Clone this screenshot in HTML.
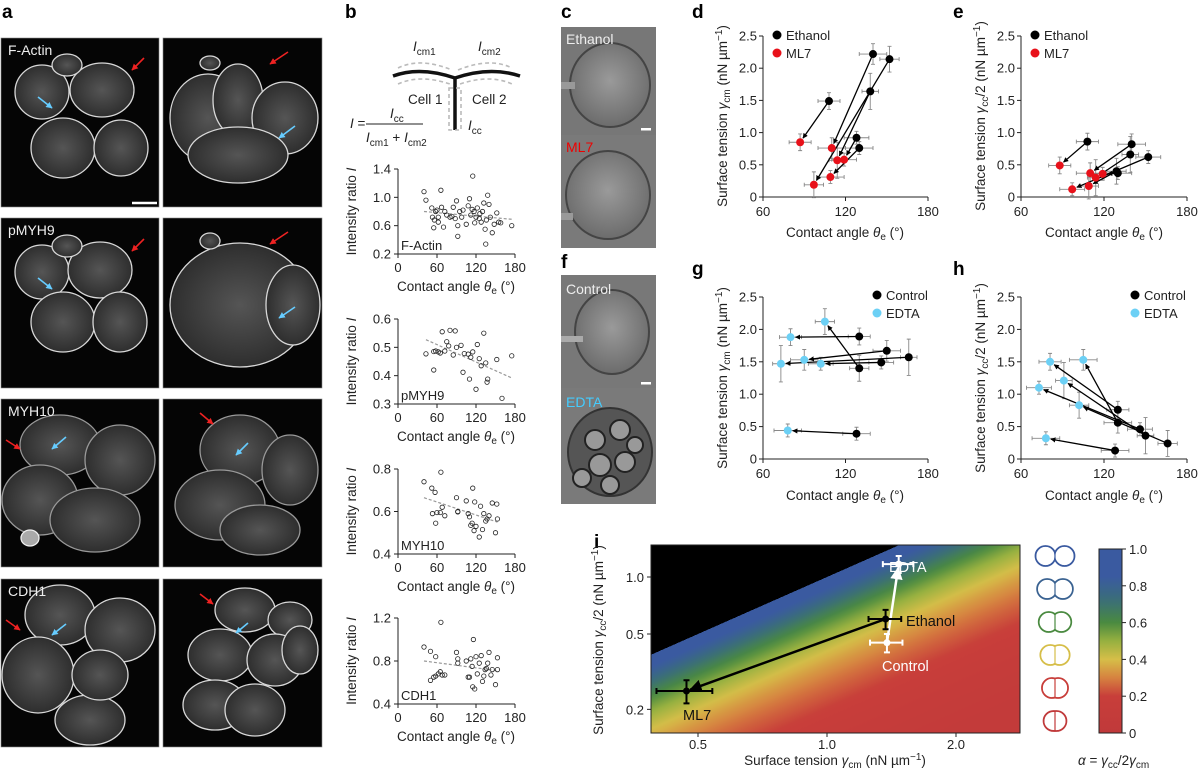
<!DOCTYPE html>
<html><head><meta charset="utf-8"><style>
body{margin:0;background:#fff}
svg{display:block;font-family:"Liberation Sans",sans-serif}
.pl{font-weight:bold;font-size:19px}
.t{font-size:13.5px;fill:#222}
.tk{font-size:13px;fill:#222}
</style></head><body>
<svg id="fig" width="1200" height="774" viewBox="0 0 1200 774" xmlns="http://www.w3.org/2000/svg">
<defs>
<radialGradient id="glow" cx="50%" cy="50%" r="55%"><stop offset="0" stop-color="#555"/><stop offset="1" stop-color="#2a2a2a"/></radialGradient>
<radialGradient id="bf" cx="50%" cy="45%" r="55%"><stop offset="0" stop-color="#9a9a9a"/><stop offset="1" stop-color="#6c6c6c"/></radialGradient>
<clipPath id="iclip"><rect x="651" y="545" width="369" height="188"/></clipPath>
<marker id="arrB" viewBox="0 0 10 10" refX="9" refY="5" markerWidth="5" markerHeight="5" orient="auto-start-reverse"><path d="M0,0L10,5L0,10z" fill="#000"/></marker>
<marker id="arrW" viewBox="0 0 10 10" refX="9" refY="5" markerWidth="5" markerHeight="5" orient="auto-start-reverse"><path d="M0,0L10,5L0,10z" fill="#fff"/></marker>
<marker id="arrS" viewBox="0 0 10 10" refX="9" refY="5" markerWidth="4" markerHeight="4" orient="auto-start-reverse"><path d="M0,0L10,5L0,10z" fill="#000"/></marker>
<marker id="arrR" viewBox="0 0 10 10" refX="9" refY="5" markerWidth="4" markerHeight="4" orient="auto-start-reverse"><path d="M0,0L10,5L0,10z" fill="#e22"/></marker>
<marker id="arrC" viewBox="0 0 10 10" refX="9" refY="5" markerWidth="4" markerHeight="4" orient="auto-start-reverse"><path d="M0,0L10,5L0,10z" fill="#6cf"/></marker>
</defs>

<!-- panel labels -->
<text class="pl" x="2" y="18">a</text>
<text class="pl" x="345" y="18">b</text>
<text class="pl" x="561" y="18">c</text>
<text class="pl" x="692" y="18">d</text>
<text class="pl" x="953" y="18">e</text>
<text class="pl" x="561" y="268">f</text>
<text class="pl" x="692" y="275">g</text>
<text class="pl" x="953" y="275">h</text>
<text class="pl" x="594" y="548">i</text>

<!-- panel a microscopy -->
<g fill="url(#glow)" stroke="#d8d8d8" stroke-width="1.3">
 <rect x="1" y="38" width="158" height="169" fill="#050505" stroke="#888" stroke-width="0.6"/>
 <ellipse cx="42" cy="92" rx="27" ry="27"/><ellipse cx="102" cy="90" rx="32" ry="27"/><ellipse cx="67" cy="65" rx="15" ry="11"/>
 <ellipse cx="63" cy="148" rx="32" ry="30"/><ellipse cx="121" cy="148" rx="27" ry="28"/>
 <rect x="163" y="38" width="159" height="169" fill="#050505" stroke="#888" stroke-width="0.6"/>
 <ellipse cx="208" cy="118" rx="38" ry="44"/><ellipse cx="238" cy="100" rx="25" ry="36"/><ellipse cx="285" cy="118" rx="33" ry="36"/>
 <ellipse cx="238" cy="155" rx="50" ry="28"/><ellipse cx="210" cy="63" rx="10" ry="7"/>
 <rect x="1" y="218" width="158" height="170" fill="#050505" stroke="#888" stroke-width="0.6"/>
 <ellipse cx="42" cy="272" rx="27" ry="27"/><ellipse cx="100" cy="270" rx="32" ry="28"/><ellipse cx="67" cy="246" rx="15" ry="11"/>
 <ellipse cx="63" cy="322" rx="32" ry="30"/><ellipse cx="120" cy="322" rx="27" ry="30"/>
 <rect x="163" y="218" width="159" height="170" fill="#050505" stroke="#888" stroke-width="0.6"/>
 <ellipse cx="240" cy="305" rx="70" ry="62"/><ellipse cx="293" cy="305" rx="27" ry="40"/><ellipse cx="210" cy="241" rx="10" ry="8"/>
 <rect x="1" y="399" width="158" height="168" fill="#050505" stroke="#888" stroke-width="0.6"/>
 <ellipse cx="60" cy="445" rx="40" ry="30" stroke="#999"/><ellipse cx="120" cy="460" rx="35" ry="35" stroke="#999"/><ellipse cx="40" cy="500" rx="38" ry="35" stroke="#999"/><ellipse cx="95" cy="520" rx="45" ry="32" stroke="#999"/>
 <ellipse cx="30" cy="538" rx="9" ry="8" fill="#aaa" stroke="#eee"/>
 <rect x="163" y="399" width="159" height="168" fill="#050505" stroke="#888" stroke-width="0.6"/>
 <ellipse cx="240" cy="450" rx="40" ry="35" stroke="#999"/><ellipse cx="290" cy="470" rx="28" ry="35" stroke="#999"/><ellipse cx="220" cy="505" rx="45" ry="35" stroke="#999"/><ellipse cx="260" cy="530" rx="40" ry="25" stroke="#999"/>
 <rect x="1" y="579" width="158" height="168" fill="#050505" stroke="#888" stroke-width="0.6"/>
 <ellipse cx="60" cy="615" rx="35" ry="30"/><ellipse cx="120" cy="630" rx="35" ry="32"/><ellipse cx="38" cy="675" rx="36" ry="38"/><ellipse cx="90" cy="720" rx="35" ry="25"/><ellipse cx="100" cy="675" rx="28" ry="25"/>
 <rect x="163" y="579" width="159" height="168" fill="#050505" stroke="#888" stroke-width="0.6"/>
 <ellipse cx="245" cy="610" rx="30" ry="22"/><ellipse cx="290" cy="620" rx="22" ry="18"/><ellipse cx="220" cy="655" rx="32" ry="26"/><ellipse cx="275" cy="660" rx="28" ry="26"/><ellipse cx="300" cy="650" rx="18" ry="24"/><ellipse cx="215" cy="705" rx="32" ry="25"/><ellipse cx="255" cy="710" rx="30" ry="26"/>
</g>
<g font-size="14" fill="#eee">
 <text x="8" y="55">F-Actin</text>
 <text x="8" y="235">pMYH9</text>
 <text x="8" y="416">MYH10</text>
 <text x="8" y="596">CDH1</text>
 <line x1="132" y1="203" x2="157" y2="203" stroke="#fff" stroke-width="2.5"/>
 <g stroke="#e22" stroke-width="1.6" marker-end="url(#arrR)">
  <line x1="144" y1="58" x2="132" y2="70"/><line x1="288" y1="52" x2="270" y2="64"/><line x1="144" y1="239" x2="132" y2="251"/><line x1="288" y1="232" x2="270" y2="244"/>
  <line x1="6" y1="440" x2="20" y2="449"/><line x1="200" y1="413" x2="213" y2="424"/><line x1="6" y1="620" x2="20" y2="630"/><line x1="200" y1="594" x2="213" y2="604"/>
 </g>
 <g stroke="#6cf" stroke-width="1.6" marker-end="url(#arrC)">
  <line x1="38" y1="97" x2="52" y2="108"/><line x1="295" y1="126" x2="279" y2="138"/><line x1="38" y1="278" x2="52" y2="289"/><line x1="295" y1="307" x2="279" y2="318"/>
  <line x1="66" y1="437" x2="52" y2="449"/><line x1="248" y1="443" x2="236" y2="455"/><line x1="66" y1="624" x2="52" y2="635"/><line x1="248" y1="623" x2="236" y2="633"/>
 </g>
</g>

<!-- panel b schematic -->
<g>
 <path d="M393,76 Q420,66 455,78 Q490,66 520,76" fill="none" stroke="#111" stroke-width="3.5"/>
 <line x1="455" y1="78" x2="455" y2="130" stroke="#111" stroke-width="3.5"/>
 <g fill="none" stroke="#bbb" stroke-width="1.6" stroke-dasharray="4,3">
  <path d="M398,68 Q420,57 452,70 M398,84 Q420,74 450,84"/><path d="M458,70 Q490,57 512,68 M460,84 Q490,74 512,84"/>
  <rect x="449" y="88" width="12" height="42"/>
 </g>
 <g class="t" font-size="14">
  <text x="413" y="51"><tspan font-style="italic">I</tspan><tspan font-size="10" dy="4">cm1</tspan></text>
  <text x="478" y="51"><tspan font-style="italic">I</tspan><tspan font-size="10" dy="4">cm2</tspan></text>
  <text x="408" y="104">Cell 1</text><text x="472" y="104">Cell 2</text>
  <text x="468" y="130"><tspan font-style="italic">I</tspan><tspan font-size="10" dy="4">cc</tspan></text>
  <text x="350" y="128"><tspan font-style="italic">I</tspan> =</text>
  <text x="390" y="118"><tspan font-style="italic">I</tspan><tspan font-size="10" dy="4">cc</tspan></text>
  <line x1="366" y1="124" x2="423" y2="124" stroke="#222" stroke-width="1"/>
  <text x="366" y="142"><tspan font-style="italic">I</tspan><tspan font-size="10" dy="4">cm1</tspan><tspan dy="-4"> + </tspan><tspan font-style="italic">I</tspan><tspan font-size="10" dy="4">cm2</tspan></text>
 </g>
</g>

<!-- panel c / f brightfield -->
<g>
 <rect x="561" y="27" width="95" height="108" fill="#777"/>
 <ellipse cx="610" cy="85" rx="40" ry="42" fill="url(#bf)" stroke="#444" stroke-width="2"/>
 <rect x="561" y="82" width="14" height="7" fill="#999"/>
 <text x="566" y="44" font-size="14" fill="#eee">Ethanol</text>
 <rect x="641" y="128" width="10" height="2.5" fill="#fff"/>
 <rect x="561" y="135" width="95" height="113" fill="#7a7a7a"/>
 <ellipse cx="608" cy="195" rx="42" ry="44" fill="url(#bf)" stroke="#444" stroke-width="2"/>
 <rect x="561" y="213" width="12" height="7" fill="#999"/>
 <text x="566" y="152" font-size="14" fill="#e00">ML7</text>
</g>
<g>
 <rect x="561" y="275" width="95" height="113" fill="#787878"/>
 <ellipse cx="612" cy="332" rx="37" ry="42" fill="url(#bf)" stroke="#444" stroke-width="2"/>
 <rect x="561" y="336" width="22" height="6" fill="#aaa"/>
 <text x="566" y="294" font-size="14" fill="#eee">Control</text>
 <rect x="641" y="382" width="10" height="2.5" fill="#fff"/>
 <rect x="561" y="388" width="95" height="116" fill="#7a7a7a"/>
 <ellipse cx="610" cy="452" rx="42" ry="44" fill="#555" stroke="#333" stroke-width="2"/>
 <g fill="#999" stroke="#222" stroke-width="2"><circle cx="595" cy="440" r="10"/><circle cx="620" cy="430" r="10"/><circle cx="600" cy="465" r="11"/><circle cx="625" cy="462" r="10"/><circle cx="582" cy="478" r="9"/><circle cx="610" cy="485" r="9"/><circle cx="635" cy="445" r="8"/></g>
 <text x="566" y="407" font-size="14" fill="#4cf">EDTA</text>
</g>

<!-- axis titles -->
<g class="t" font-size="14">
 <text transform="translate(727,116) rotate(-90)" text-anchor="middle">Surface tension <tspan font-style="italic">γ</tspan><tspan font-size="10" dy="3">cm</tspan><tspan dy="-3"> (nN µm</tspan><tspan font-size="10" dy="-5">−1</tspan><tspan dy="5">)</tspan></text>
 <text transform="translate(985,116) rotate(-90)" text-anchor="middle">Surface tension <tspan font-style="italic">γ</tspan><tspan font-size="10" dy="3">cc</tspan><tspan dy="-3">/2 (nN µm</tspan><tspan font-size="10" dy="-5">−1</tspan><tspan dy="5">)</tspan></text>
 <text transform="translate(727,378) rotate(-90)" text-anchor="middle">Surface tension <tspan font-style="italic">γ</tspan><tspan font-size="10" dy="3">cm</tspan><tspan dy="-3"> (nN µm</tspan><tspan font-size="10" dy="-5">−1</tspan><tspan dy="5">)</tspan></text>
 <text transform="translate(985,378) rotate(-90)" text-anchor="middle">Surface tension <tspan font-style="italic">γ</tspan><tspan font-size="10" dy="3">cc</tspan><tspan dy="-3">/2 (nN µm</tspan><tspan font-size="10" dy="-5">−1</tspan><tspan dy="5">)</tspan></text>
 <text x="845" y="237" text-anchor="middle">Contact angle <tspan font-style="italic">θ</tspan><tspan font-size="10" dy="3">e</tspan><tspan dy="-3"> (°)</tspan></text>
 <text x="1104" y="237" text-anchor="middle">Contact angle <tspan font-style="italic">θ</tspan><tspan font-size="10" dy="3">e</tspan><tspan dy="-3"> (°)</tspan></text>
 <text x="845" y="500" text-anchor="middle">Contact angle <tspan font-style="italic">θ</tspan><tspan font-size="10" dy="3">e</tspan><tspan dy="-3"> (°)</tspan></text>
 <text x="1104" y="500" text-anchor="middle">Contact angle <tspan font-style="italic">θ</tspan><tspan font-size="10" dy="3">e</tspan><tspan dy="-3"> (°)</tspan></text>
 <text transform="translate(603,640) rotate(-90)" text-anchor="middle">Surface tension <tspan font-style="italic">γ</tspan><tspan font-size="10" dy="3">cc</tspan><tspan dy="-3">/2 (nN µm</tspan><tspan font-size="10" dy="-5">−1</tspan><tspan dy="5">)</tspan></text>
 <text x="835" y="765" text-anchor="middle">Surface tension <tspan font-style="italic">γ</tspan><tspan font-size="10" dy="3">cm</tspan><tspan dy="-3"> (nN µm</tspan><tspan font-size="10" dy="-5">−1</tspan><tspan dy="5">)</tspan></text>
 <text x="1078" y="765"><tspan font-style="italic">α</tspan> = <tspan font-style="italic">γ</tspan><tspan font-size="10" dy="3">cc</tspan><tspan dy="-3">/2</tspan><tspan font-style="italic">γ</tspan><tspan font-size="10" dy="3">cm</tspan></text>
</g>
<g id="dyn"></g>
</svg>
<script>
// ---- panel b data ----
const bXTicks=[0,60,120,180];
const b1X=[40,43,52,55,58,62,66,67,70,75,80,85,88,90,92,92,95,100,105,108,110,112,115,117,118,120,122,125,128,130,132,134,135,136,138,140,142,145,148,152,155,158,175,60,72,83,98,114,126,62,53,56];
const b1Y=[1.08,0.96,0.85,0.57,0.8,0.72,1.1,0.86,0.58,0.75,0.72,0.86,0.7,0.95,0.6,0.45,0.8,0.82,0.62,0.88,0.98,0.75,1.3,0.8,0.64,0.72,0.85,0.7,0.65,0.8,0.92,0.55,0.34,0.68,1.03,0.9,0.72,0.5,0.62,0.78,0.65,0.64,0.6,0.82,0.8,0.73,0.72,0.83,0.77,0.65,0.72,0.68];
const b1Trend=[[40,0.8],[175,0.69]];
const b1YTicks=[0.2,0.6,1.0,1.4];
const b2X=[43,55,55,58,62,68,72,75,78,80,85,88,90,97,100,102,108,110,112,115,120,122,125,128,132,135,137,138,152,160,175,65];
const b2Y=[0.477,0.42,0.485,0.487,0.484,0.555,0.487,0.52,0.505,0.56,0.473,0.558,0.5,0.507,0.412,0.478,0.476,0.388,0.465,0.484,0.352,0.51,0.46,0.435,0.55,0.445,0.377,0.388,0.457,0.32,0.47,0.48];
const b2Trend=[[43,0.527],[175,0.392]];
const b2YTicks=[0.3,0.4,0.5,0.6];
const b3X=[40,52,57,53,58,60,65,66,68,72,90,92,105,108,110,112,115,117,118,120,125,127,130,132,135,137,140,145,150,152,153,114,92];
const b3Y=[0.74,0.71,0.69,0.59,0.545,0.595,0.595,0.785,0.62,0.58,0.665,0.6,0.65,0.59,0.575,0.535,0.71,0.51,0.645,0.53,0.48,0.625,0.515,0.59,0.555,0.565,0.58,0.64,0.5,0.635,0.565,0.545,0.598];
const b3Trend=[[40,0.665],[153,0.55]];
const b3YTicks=[0.4,0.6,0.8];
const b4X=[40,50,58,50,55,58,62,65,66,68,72,90,92,92,105,108,110,112,114,115,116,118,120,122,125,128,130,132,134,136,140,143,145,150,153,153,138];
const b4Y=[0.93,0.89,0.84,0.62,0.65,0.66,0.68,0.7,1.16,0.67,0.67,0.88,0.82,0.78,0.8,0.65,0.65,0.82,0.75,0.56,1.0,0.54,0.84,0.68,0.78,0.85,0.61,0.66,0.72,0.73,0.88,0.67,0.72,0.58,0.83,0.72,0.78];
const b4Trend=[[40,0.8],[153,0.71]];
const b4YTicks=[0.4,0.8,1.2];
const bNames=['F-Actin','pMYH9','MYH10','CDH1'];

// ---- panels d/e/g/h data ----
const scXTicks=[60,120,180];
const scYTicks=[0,0.5,1.0,1.5,2.0,2.5];
const dEthX=[108,140,138,128,152,130];
const dEthY=[1.49,2.22,1.64,0.92,2.14,0.76];
const dMLX=[87,110,114,119,97,109];
const dMLY=[0.85,0.76,0.57,0.58,0.19,0.31];
const eEthX=[108,140,139,152,129,130];
const eEthY=[0.86,0.82,0.66,0.62,0.40,0.37];
const eMLX=[88,110,114,97,109,119];
const eMLY=[0.49,0.37,0.30,0.12,0.17,0.36];
const gCtlX=[130,150,166,146,130,128];
const gCtlY=[1.89,1.67,1.57,1.49,1.40,0.39];
const gEdX=[80,90,73,102,105,78];
const gEdY=[1.88,1.53,1.47,1.47,2.12,0.44];
const hCtlX=[130,130,150,146,166,128];
const hCtlY=[0.76,0.56,0.36,0.46,0.24,0.13];
const hEdX=[81,105,91,73,102,78];
const hEdY=[1.50,1.53,1.21,1.10,0.83,0.32];
const errXdeg=[8,10,6,9,7,10];
const errYval=[0.13,0.16,0.28,0.1,0.2,0.1];

// ---- panel i data ----
const iNames=['ML7','Ethanol','Control','EDTA'];
const iGcm=[0.47,1.37,1.38,1.47];
const iGcc=[0.25,0.6,0.45,1.17];
const iErrX=[0.07,0.12,0.12,0.12];
const iErrY=[0.035,0.07,0.05,0.12];
const iXTicks=[0.5,1.0,2.0];
const iYTicks=[0.2,0.5,1.0];
const cbTicks=[0,0.2,0.4,0.6,0.8,1.0];
const iconAlpha=[1.0,0.8,0.6,0.4,0.2,0.0];

const NS='http://www.w3.org/2000/svg';
const root=document.getElementById('dyn');
function mk(tag,attrs,parent){const e=document.createElementNS(NS,tag);for(const k in attrs)e.setAttribute(k,attrs[k]);(parent||root).appendChild(e);return e;}
function lin(d0,d1,r0,r1){return v=>r0+(v-d0)/(d1-d0)*(r1-r0);}

// ---- panel b plots ----
const bData=[[b1X,b1Y,b1Trend,b1YTicks,169,254],[b2X,b2Y,b2Trend,b2YTicks,319,404],[b3X,b3Y,b3Trend,b3YTicks,469,554],[b4X,b4Y,b4Trend,b4YTicks,618,704]];
bData.forEach((bd,k)=>{
  const [xs,ys,tr,yt,top,bot]=bd;
  const g=mk('g',{});
  
  
  const sx=lin(0,180,398,515), sy=lin(yt[0],yt[yt.length-1],bot,top);
  const ax=mk('path',{d:`M398,${top}V${bot}H515`,fill:'none',stroke:'#222','stroke-width':1},g);
   
  yt.forEach(v=>{const y=sy(v);mk('line',{x1:394,x2:398,y1:y,y2:y,stroke:'#222'},g);
    const t=mk('text',{x:391,y:y+4.5,'text-anchor':'end',class:'tk'},g);t.textContent=v.toFixed(1);
    });
  bXTicks.forEach(v=>{const x=sx(v);mk('line',{x1:x,x2:x,y1:bot,y2:bot+4,stroke:'#222'},g);
    const t=mk('text',{x:x,y:bot+18,'text-anchor':'middle',class:'tk'},g);t.textContent=v;
    });
  const tl=mk('line',{x1:sx(tr[0][0]),y1:sy(tr[0][1]),x2:sx(tr[1][0]),y2:sy(tr[1][1]),stroke:'#999','stroke-width':1.2,'stroke-dasharray':'3,2'},g);
  
  xs.forEach((x,i)=>{const c=mk('circle',{cx:sx(x),cy:sy(ys[i]),r:2.2,fill:'none',stroke:'#222','stroke-width':0.8},g);
    });
  const lb=mk('text',{x:401,y:bot-4,class:'tk','font-size':'14'},g);lb.textContent=bNames[k];
  
  const yt2=mk('text',{transform:`translate(356,${(top+bot)/2}) rotate(-90)`,'text-anchor':'middle',class:'t'},g);
  yt2.innerHTML='Intensity ratio <tspan font-style="italic">I</tspan>';
  
  const xt=mk('text',{x:456,y:bot+37,'text-anchor':'middle',class:'t'},g);
  xt.innerHTML='Contact angle <tspan font-style="italic">θ</tspan><tspan font-size="10" dy="3">e</tspan><tspan dy="-3"> (°)</tspan>';
  
});

// ---- d/e/g/h ----
function pairPlot(name,x0,x1,top,bot,cX,cY,tX,tY,col1,col2,leg1,leg2,legX,legY){
  const g=mk('g',{});
  
  
  const sx=lin(60,180,x0,x1), sy=lin(0,2.5,bot,top);
  const ax=mk('path',{d:`M${x0},${top}V${bot}H${x1}`,fill:'none',stroke:'#222'},g);
  
  scYTicks.forEach(v=>{const y=sy(v);mk('line',{x1:x0-4,x2:x0,y1:y,y2:y,stroke:'#222'},g);
    const t=mk('text',{x:x0-6,y:y+4.5,'text-anchor':'end',class:'tk','font-size':'14'},g);t.textContent=v===0?'0':v.toFixed(1);
    });
  scXTicks.forEach(v=>{const x=sx(v);mk('line',{x1:x,x2:x,y1:bot,y2:bot+4,stroke:'#222'},g);
    const t=mk('text',{x:x,y:bot+19,'text-anchor':'middle',class:'tk','font-size':'14'},g);t.textContent=v;
    });
  const pts=[[cX,cY,col1],[tX,tY,col2]];
  pts.forEach(([xs,ys])=>xs.forEach((x,i)=>{
    const px=sx(x),py=sy(ys[i]),ex=sx(x+errXdeg[i])-px,ey=py-sy(ys[i]+errYval[i]);
    const e=mk('path',{d:`M${px-ex},${py}H${px+ex}M${px-ex},${py-2}v4M${px+ex},${py-2}v4M${px},${py-ey}V${py+ey}M${px-2},${py-ey}h4M${px-2},${py+ey}h4`,stroke:'#888','stroke-width':0.9,fill:'none'},g);
    }));
  cX.forEach((x,i)=>{
    const ax1=sx(x),ay1=sy(cY[i]),ax2=sx(tX[i]),ay2=sy(tY[i]);
    const dx=ax2-ax1,dy=ay2-ay1,L=Math.hypot(dx,dy),s=(L-5)/L;
    const l=mk('line',{x1:ax1,y1:ay1,x2:ax1+dx*s,y2:ay1+dy*s,stroke:'#000','stroke-width':1.3,'marker-end':'url(#arrS)'},g);
    });
  pts.forEach(([xs,ys,col])=>xs.forEach((x,i)=>{
    const c=mk('circle',{cx:sx(x),cy:sy(ys[i]),r:4,fill:col},g);
    }));
  [[leg1,col1,0],[leg2,col2,18]].forEach(([lab,col,off])=>{
    const c=mk('circle',{cx:legX,cy:legY+off,r:4.5,fill:col},g);
    
    const t=mk('text',{x:legX+9,y:legY+off+5,class:'tk','font-size':'14.5'},g);t.textContent=lab;
    });
}
pairPlot('plot-d',763,928,36,197,dEthX,dEthY,dMLX,dMLY,'#000','#e8111a','Ethanol','ML7',777,35);
pairPlot('plot-e',1021,1187,36,197,eEthX,eEthY,eMLX,eMLY,'#000','#e8111a','Ethanol','ML7',1035,35);
pairPlot('plot-g',763,928,297,459,gCtlX,gCtlY,gEdX,gEdY,'#000','#6cd0f5','Control','EDTA',877,295);
pairPlot('plot-h',1021,1187,297,459,hCtlX,hCtlY,hEdX,hEdY,'#000','#6cd0f5','Control','EDTA',1135,295);

// ---- panel i ----
const cmStops=[[0,[192,57,58]],[0.2,[200,62,58]],[0.3,[214,130,64]],[0.4,[214,190,72]],[0.5,[150,176,64]],[0.6,[74,138,64]],[0.72,[58,110,120]],[0.85,[58,90,160]],[1,[58,90,160]]];
function cmap(a){a=Math.max(0,Math.min(1,a));for(let i=1;i<cmStops.length;i++){if(a<=cmStops[i][0]){const [t0,c0]=cmStops[i-1],[t1,c1]=cmStops[i];const f=(a-t0)/(t1-t0||1);return 'rgb('+c0.map((v,j)=>Math.round(v+(c1[j]-v)*f)).join(',')+')';}}return 'rgb(58,90,160)';}
const PXD=129, PYD=57, X1=827, Y1=577;
const isx=v=>X1+Math.log2(v)*PXD, isy=v=>Y1-Math.log2(v)*PYD;
const defs=document.querySelector('defs');
const gx=1/PXD, gy=1/PYD, gm=Math.hypot(gx,gy), D=4/gm;
const lg=mk('linearGradient',{id:'alphaGrad',gradientUnits:'userSpaceOnUse',x1:X1,y1:Y1,x2:X1+D*gx/gm,y2:Y1+D*gy/gm},defs);
mk('stop',{offset:0,'stop-color':'#000'},lg);
for(let k=0;k<=40;k++){const t=k/40,a=Math.pow(2,-4*t);mk('stop',{offset:t,'stop-color':cmap(a)},lg);}
const ig=mk('g',{});


const hm=mk('rect',{x:651,y:545,width:369,height:188,fill:'url(#alphaGrad)','clip-path':'url(#iclip)'},ig);

const fr=mk('rect',{x:651,y:545,width:369,height:188,fill:'none',stroke:'#222'},ig);

iYTicks.forEach(v=>{const y=isy(v);mk('line',{x1:647,x2:651,y1:y,y2:y,stroke:'#222'},ig);
  const t=mk('text',{x:644,y:y+5,'text-anchor':'end',class:'tk','font-size':'14'},ig);t.textContent=v.toFixed(1);
  });
iXTicks.forEach(v=>{const x=isx(v);mk('line',{x1:x,x2:x,y1:733,y2:737,stroke:'#222'},ig);
  const t=mk('text',{x:x,y:749,'text-anchor':'middle',class:'tk','font-size':'14'},ig);t.textContent=v.toFixed(1);
  });
function arrowI(a,b,col,mark){const x1=isx(iGcm[a]),y1=isy(iGcc[a]),x2=isx(iGcm[b]),y2=isy(iGcc[b]);
  const dx=x2-x1,dy=y2-y1,L=Math.hypot(dx,dy),s=(L-4)/L;
  const l=mk('line',{x1,y1,x2:x1+dx*s,y2:y1+dy*s,stroke:col,'stroke-width':2.5,'marker-end':mark},ig);
  }
arrowI(1,0,'#000','url(#arrB)');
arrowI(2,3,'#fff','url(#arrW)');
const iCols=['#000','#000','#fff','#fff'];
const iLab=[[683,720,'#111'],[906,626,'#111'],[882,671,'#fff'],[889,572,'#fff']];
iNames.forEach((n,i)=>{
  const px=isx(iGcm[i]),py=isy(iGcc[i]),x0=isx(iGcm[i]-iErrX[i]),x1=isx(iGcm[i]+iErrX[i]),y0=isy(iGcc[i]+iErrY[i]),y1=isy(iGcc[i]-iErrY[i]);
  const e=mk('path',{d:`M${x0},${py}H${x1}M${x0},${py-3}v6M${x1},${py-3}v6M${px},${y0}V${y1}M${px-3},${y0}h6M${px-3},${y1}h6`,stroke:iCols[i],'stroke-width':2,fill:'none'},ig);
  
  const c=mk('circle',{cx:px,cy:py,r:3.5,fill:iCols[i]},ig);
  
  const t=mk('text',{x:iLab[i][0],y:iLab[i][1],fill:iLab[i][2],'font-size':'14.5'},ig);t.textContent=n;
  
});
const cbG=mk('linearGradient',{id:'cbGrad',x1:0,y1:1,x2:0,y2:0},defs);
for(let k=0;k<=20;k++){mk('stop',{offset:k/20,'stop-color':cmap(k/20)},cbG);}
const cbS=lin(0,1,733,549);
const cb=mk('rect',{x:1099,y:549,width:23,height:184,fill:'url(#cbGrad)',stroke:'#222'},ig);

cbTicks.forEach(v=>{const y=cbS(v);mk('line',{x1:1122,x2:1126,y1:y,y2:y,stroke:'#222'},ig);
  const t=mk('text',{x:1129,y:y+5,class:'tk','font-size':'14'},ig);t.textContent=v===0?'0':v.toFixed(1);
  });
iconAlpha.forEach((a,k)=>{
  const cx=1055,cy=556+k*33,r=10,d=2*r*(0.15+0.85*a)*0.95,col=cmap(a);
  const g=mk('g',{},ig);
  
  
  mk('circle',{cx:cx-d/2,cy,r,fill:'#fff',stroke:col,'stroke-width':1.8},g);
  mk('circle',{cx:cx+d/2,cy,r,fill:'#fff',stroke:col,'stroke-width':1.8},g);
  mk('circle',{cx:cx-d/2,cy,r:r-1,fill:'#fff'},g);
  mk('circle',{cx:cx+d/2,cy,r:r-1,fill:'#fff'},g);
  const h=Math.sqrt(Math.max(0,r*r-d*d/4));
  mk('line',{x1:cx,x2:cx,y1:cy-h,y2:cy+h,stroke:col,'stroke-width':1.2},g);
});
</script>
</body></html>
